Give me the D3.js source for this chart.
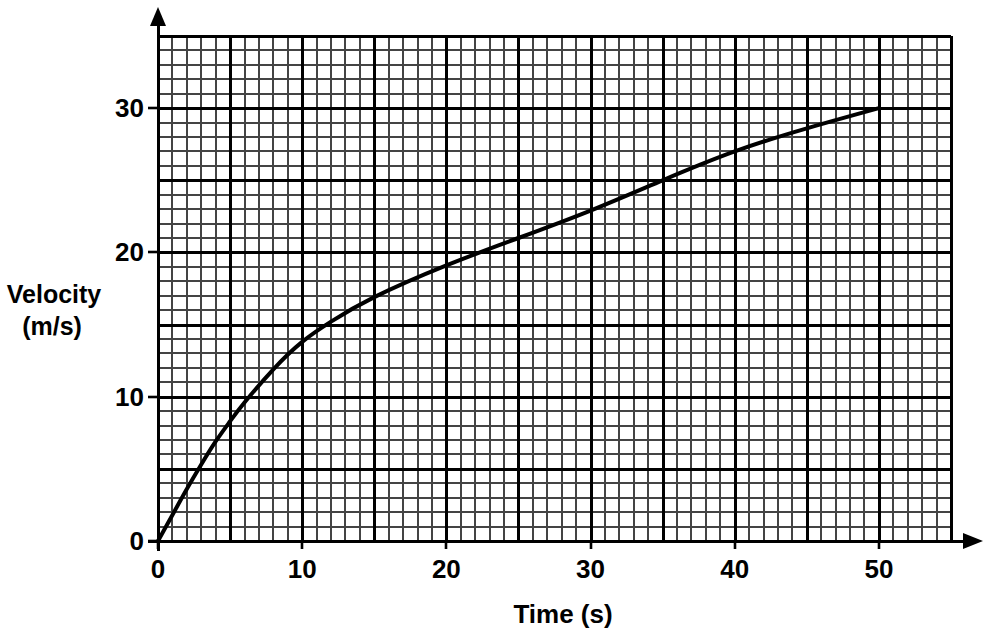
<!DOCTYPE html>
<html><head><meta charset="utf-8">
<script src="https://cdn.jsdelivr.net/npm/d3@7"></script>
<style>body{margin:0;background:#fff}svg{display:block}text{font-family:"Liberation Sans",Arial,sans-serif;font-weight:bold;fill:#000}</style>
</head><body>
<script>
const timeValues = [0,1,2,3,4,5,6,8,10,12,15,20,25,30,35,40,45,50];
const velocityValues = [0,1.8,3.6,5.3,6.9,8.3,9.6,11.9,13.8,15.2,16.9,19.1,21.0,22.9,25.0,27.0,28.6,30.0];
const xTicks = [0,10,20,30,40,50];
const yTicks = [0,10,20,30];
const xLabel = "Time (s)";
const yLabel = ["Velocity","(m/s)"];

const W=1000,H=640;
const svg=d3.select("body").append("svg").attr("width",W).attr("height",H);
const x=d3.scaleLinear().domain([0,55]).range([158,951]);
const y=d3.scaleLinear().domain([0,35]).range([541,36]);
const rx=d=>Math.round(x(d)), ry=d=>Math.round(y(d));

const g=svg.append("g").attr("shape-rendering","crispEdges");
// minor grid
g.selectAll(".vmin").data(d3.range(1,55).filter(d=>d%5)).join("line")
 .attr("x1",rx).attr("x2",rx).attr("y1",y(0)).attr("y2",y(35))
 .attr("stroke","#444").attr("stroke-width",2);
g.selectAll(".hmin").data(d3.range(1,35).filter(d=>d%5)).join("line")
 .attr("y1",ry).attr("y2",ry).attr("x1",x(0)).attr("x2",x(55))
 .attr("stroke","#444").attr("stroke-width",2);
// major grid
g.selectAll(".vmaj").data(d3.range(5,56,5)).join("line")
 .attr("x1",rx).attr("x2",rx).attr("y1",y(0)).attr("y2",y(35))
 .attr("stroke","#000").attr("stroke-width",3);
g.selectAll(".hmaj").data(d3.range(5,36,5)).join("line")
 .attr("y1",ry).attr("y2",ry).attr("x1",x(0)).attr("x2",x(55))
 .attr("stroke","#000").attr("stroke-width",3);

// axes lines
svg.append("line").attr("x1",rx(0)).attr("x2",rx(0)).attr("y1",y(0)+10).attr("y2",22).attr("stroke","#000").attr("stroke-width",3).attr("shape-rendering","crispEdges");
svg.append("line").attr("x1",x(0)-10).attr("x2",968).attr("y1",ry(0)).attr("y2",ry(0)).attr("stroke","#000").attr("stroke-width",3).attr("shape-rendering","crispEdges");
// arrows
svg.append("path").attr("d",`M${rx(0)},7 L${rx(0)-8},26 L${rx(0)+8},26 Z`).attr("fill","#000");
svg.append("path").attr("d",`M983,${ry(0)} L963,${ry(0)-8} L963,${ry(0)+8} Z`).attr("fill","#000");

// ticks
svg.selectAll(".xt").data(xTicks).join("line")
 .attr("x1",rx).attr("x2",rx).attr("y1",y(0)).attr("y2",y(0)+8)
 .attr("stroke","#000").attr("stroke-width",2.6);
svg.selectAll(".yt").data(yTicks).join("line")
 .attr("y1",ry).attr("y2",ry).attr("x1",x(0)-10).attr("x2",x(0))
 .attr("stroke","#000").attr("stroke-width",2.6);
svg.selectAll(".xl").data(xTicks).join("text")
 .attr("x",d=>x(d)).attr("y",578).attr("text-anchor","middle").attr("font-size",26).text(d=>d);
svg.selectAll(".yl").data(yTicks).join("text")
 .attr("x",144).attr("y",d=>y(d)+9).attr("text-anchor","end").attr("font-size",26).text(d=>d);

// curve
svg.append("path").datum(timeValues.map((t,i)=>[t,velocityValues[i]]))
 .attr("d",d3.line().x(d=>x(d[0])).y(d=>y(d[1])).curve(d3.curveNatural))
 .attr("fill","none").attr("stroke","#000").attr("stroke-width",4).attr("stroke-linecap","round");

// labels
svg.append("text").attr("x",563).attr("y",623).attr("text-anchor","middle").attr("font-size",26).text(xLabel);
svg.append("text").attr("x",54).attr("y",303).attr("text-anchor","middle").attr("font-size",25).text(yLabel[0]);
svg.append("text").attr("x",52).attr("y",335).attr("text-anchor","middle").attr("font-size",25).text(yLabel[1]);
</script>
</body></html>
